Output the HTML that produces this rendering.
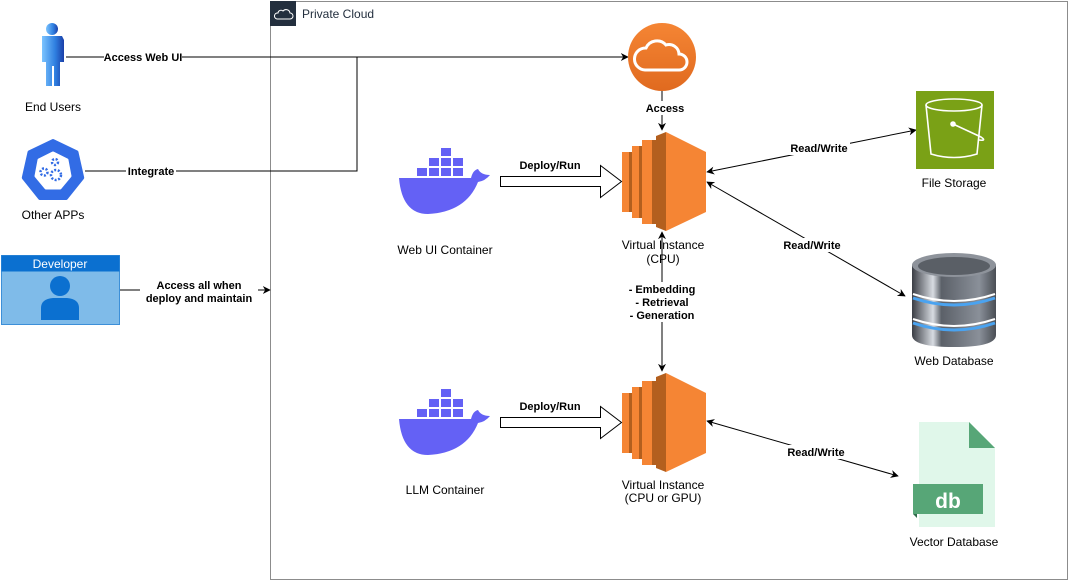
<!DOCTYPE html>
<html><head><meta charset="utf-8"><style>
html,body{margin:0;padding:0;background:#fff;}
svg{display:block;font-family:"Liberation Sans",Arial,sans-serif;}
.l{font-size:12px;fill:#000;text-anchor:middle;}
.b{font-size:11px;font-weight:bold;fill:#000;text-anchor:middle;}
</style></head><body>
<svg width="1071" height="581" viewBox="0 0 1071 581" xmlns="http://www.w3.org/2000/svg">
<defs>
<marker id="a" viewBox="0 0 10 10" refX="9" refY="5" markerWidth="8" markerHeight="8" orient="auto-start-reverse" markerUnits="userSpaceOnUse"><path d="M0,0 L10,5 L0,10 L3,5 z" fill="#000"/></marker>
<linearGradient id="usr" x1="0" x2="1"><stop offset="0" stop-color="#7cc4ff"/><stop offset="0.6" stop-color="#2f7fe0"/><stop offset="1" stop-color="#1a3fa8"/></linearGradient>
<linearGradient id="cl" x1="0" y1="0" x2="0" y2="1"><stop offset="0" stop-color="#f58534"/><stop offset="1" stop-color="#e06a1f"/></linearGradient>
<linearGradient id="db" x1="0" x2="1"><stop offset="0" stop-color="#3a3d44"/><stop offset="0.25" stop-color="#d8dce2"/><stop offset="0.35" stop-color="#5b6068"/><stop offset="0.8" stop-color="#8a9099"/><stop offset="1" stop-color="#4a4e55"/></linearGradient>
</defs>

<rect x="270.5" y="1.5" width="797" height="578" fill="none" stroke="#8c8c8c" stroke-width="1"/>
<rect x="270" y="1" width="26" height="25" fill="#232f3e"/>
<path d="M277,19 h13 a3,3 0 0 0 0-6 a4,4 0 0 0-7-2 a3,3 0 0 0-5,2 a3,3 0 0 0-1,6z" fill="none" stroke="#fff" stroke-width="1"/>
<text x="302" y="18" font-size="12" fill="#232f3e">Private Cloud</text>

<circle cx="52" cy="29" r="6" fill="url(#usr)"/>
<path d="M42,36 h20 l2,4 v22 h-4 v24 h-6 v-20 h-2 v20 h-6 v-24 h-4 z" fill="url(#usr)"/>
<text class="l" x="53" y="111">End Users</text>

<polygon points="53,141 76.5,152.3 82.2,177.7 66,198 40,198 23.8,177.7 29.5,152.3" fill="#326ce5" stroke="#326ce5" stroke-width="4" stroke-linejoin="round"/>
<polygon points="53,153 67,160 70,176 60,188 46,188 36,176 39,160" fill="#fff" stroke="#fff" stroke-width="3" stroke-linejoin="round"/>
<g fill="none" stroke="#326ce5" stroke-width="2.5" stroke-dasharray="2 1.6">
<circle cx="56" cy="175" r="5"/><circle cx="44" cy="172" r="3.5"/><circle cx="55" cy="162" r="3"/></g>
<text class="l" x="53" y="219">Other APPs</text>

<rect x="1.5" y="255.5" width="118" height="69" fill="#7fbbe9" stroke="#3c8fd8"/>
<rect x="1.5" y="255.5" width="118" height="16" fill="#0b70d0"/>
<text x="60" y="268" font-size="12" fill="#fff" text-anchor="middle">Developer</text>
<circle cx="60" cy="286" r="10" fill="#0b70d0"/>
<path d="M41,320 v-12 q0,-9 12,-10 h14 q12,1 12,10 v12 z" fill="#0b70d0"/>

<line x1="66" y1="57" x2="628" y2="57" stroke="#000" marker-end="url(#a)"/>
<rect x="104" y="50" width="78" height="14" fill="#fff"/>
<text class="b" x="143" y="61">Access Web UI</text>
<polyline points="85,171 357,171 357,57" fill="none" stroke="#000"/>
<rect x="126" y="164" width="50" height="14" fill="#fff"/>
<text class="b" x="151" y="175">Integrate</text>
<line x1="120" y1="290" x2="270" y2="290" stroke="#000" marker-end="url(#a)"/>
<rect x="140" y="279" width="118" height="27" fill="#fff"/>
<text class="b" x="199" y="289">Access all when</text>
<text class="b" x="199" y="302">deploy and maintain</text>

<circle cx="662" cy="57" r="34" fill="url(#cl)"/>
<path d="M645,70 h34 a8,8 0 0 0 0-16 a10,10 0 0 0-13-9 a12,12 0 0 0-20,3 a11,11 0 0 0-1,22z" fill="none" stroke="#fff" stroke-width="3"/>
<line x1="662" y1="91" x2="662" y2="130" stroke="#000" marker-end="url(#a)"/>
<rect x="640" y="101" width="48" height="14" fill="#fff"/>
<text class="b" x="665" y="112">Access</text>

<g id="ec2">
<rect x="622" y="152" width="10" height="60" fill="#f58534"/><rect x="629" y="152" width="3" height="60" fill="#b35f1e"/>
<rect x="632" y="146" width="10" height="72" fill="#f58534"/><rect x="639" y="146" width="3" height="72" fill="#b35f1e"/>
<rect x="642" y="140" width="14" height="84" fill="#f58534"/><rect x="652" y="140" width="4" height="84" fill="#b35f1e"/>
<polygon points="656,136 666,132 666,231 656,227" fill="#b35f1e"/>
<polygon points="666,132 706,152 706,212 666,231" fill="#f58534"/>
</g>
<use href="#ec2" transform="translate(0,241)"/>
<text class="l" x="663" y="249">Virtual Instance</text>
<text class="l" x="663" y="263">(CPU)</text>
<text class="l" x="663" y="489">Virtual Instance</text>
<text class="l" x="663" y="502">(CPU or GPU)</text>

<line x1="662" y1="232" x2="662" y2="371" stroke="#000" marker-start="url(#a)" marker-end="url(#a)"/>
<rect x="618" y="282" width="90" height="40" fill="#fff"/>
<text class="b" x="662" y="293">- Embedding</text>
<text class="b" x="662" y="306">- Retrieval</text>
<text class="b" x="662" y="319">- Generation</text>

<g id="dk" fill="#6461f5">
<rect x="417" y="168" width="10" height="8"/><rect x="429" y="168" width="10" height="8"/><rect x="441" y="168" width="10" height="8"/><rect x="453" y="168" width="10" height="8"/>
<rect x="429" y="158" width="10" height="8"/><rect x="441" y="158" width="10" height="8"/><rect x="453" y="158" width="10" height="8"/>
<rect x="441" y="148" width="10" height="8"/>
<path d="M399,178 h72 q2,-8 7,-9 q3,6 12,6 q-5,6 -12,7 q-12,30 -50,32 q-26,0 -29,-36 z"/>
</g>
<use href="#dk" transform="translate(0,241)"/>
<text class="l" x="445" y="254">Web UI Container</text>
<text class="l" x="445" y="494">LLM Container</text>

<g id="ha"><path d="M500.5,176.5 h100 v-11 l21,16 l-21,16 v-11 h-100 z" fill="#fff" stroke="#000"/></g>
<use href="#ha" transform="translate(0,241)"/>
<text class="b" x="550" y="169" font-size="12">Deploy/Run</text>
<text class="b" x="550" y="410" font-size="12">Deploy/Run</text>

<line x1="707" y1="172" x2="916" y2="130" stroke="#000" marker-start="url(#a)" marker-end="url(#a)"/>
<rect x="788" y="141" width="62" height="14" fill="#fff"/>
<text class="b" x="819" y="152">Read/Write</text>
<line x1="707" y1="182" x2="905" y2="296" stroke="#000" marker-start="url(#a)" marker-end="url(#a)"/>
<rect x="781" y="238" width="62" height="14" fill="#fff"/>
<text class="b" x="812" y="249">Read/Write</text>
<line x1="707" y1="421" x2="898" y2="476" stroke="#000" marker-start="url(#a)" marker-end="url(#a)"/>
<rect x="785" y="445" width="62" height="14" fill="#fff"/>
<text class="b" x="816" y="456">Read/Write</text>

<rect x="916" y="91" width="78" height="78" fill="#7aa116"/>
<g fill="none" stroke="#fff" stroke-width="1.6">
<ellipse cx="954" cy="105" rx="28" ry="6"/>
<path d="M926,105 l5,49 q23,7 46,0 l5,-49"/>
<circle cx="953" cy="124" r="2" fill="#fff"/>
<path d="M953,124 l28,13 q6,4 -2,3"/></g>
<text class="l" x="954" y="187" fill="#232f3e">File Storage</text>

<path d="M912,265 v70 q0,12 42,12 q42,0 42,-12 v-70 z" fill="url(#db)"/>
<ellipse cx="954" cy="265" rx="42" ry="12" fill="#8e939b"/>
<ellipse cx="954" cy="266" rx="36" ry="9" fill="#5a5f66"/>
<path d="M913,298 q41,14 82,0" stroke="#4aa3f0" stroke-width="3" fill="none"/>
<path d="M913,323 q41,14 82,0" stroke="#4aa3f0" stroke-width="3" fill="none"/>
<path d="M913,294 q41,14 82,0 M913,319 q41,14 82,0" stroke="#fff" stroke-width="2" fill="none"/>
<text class="l" x="954" y="365">Web Database</text>

<path d="M919,422 h50 l26,26 v79 h-76 z" fill="#e0f7ea"/>
<path d="M969,422 l26,26 h-26 z" fill="#57a677"/>
<rect x="913" y="484" width="70" height="30" fill="#57a677"/>
<path d="M913,514 l4,4 v-4z" fill="#2f6b4a"/>
<text x="948" y="508" font-size="21" font-weight="bold" fill="#fff" text-anchor="middle">db</text>
<text class="l" x="954" y="546">Vector Database</text>
</svg>
</body></html>
